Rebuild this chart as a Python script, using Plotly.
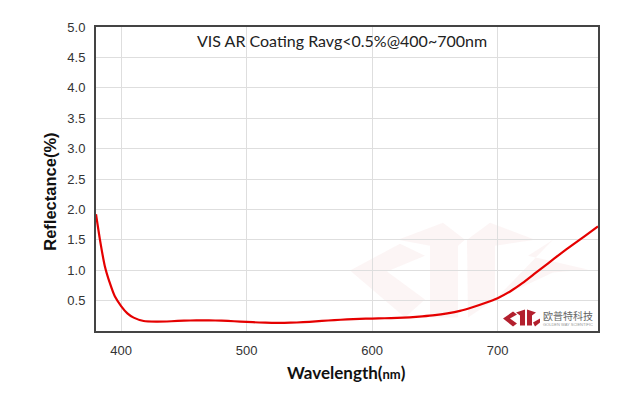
import plotly.graph_objects as go

wavelength = [380, 383, 387, 391, 395, 400, 405, 410, 418, 428, 440, 450, 460, 470,
              480, 490, 500, 510, 520, 530, 540, 550, 560, 570, 580, 590, 600, 610, 620,
              630, 640, 650, 660, 670, 680, 690, 700, 710, 720, 730, 740, 750, 760, 770, 780]
reflectance = [1.92, 1.52, 1.07, 0.79, 0.57, 0.41, 0.29, 0.22, 0.165, 0.155, 0.16,
               0.17, 0.175, 0.175, 0.17, 0.16, 0.15, 0.14, 0.135, 0.135, 0.14, 0.15, 0.165,
               0.18, 0.19, 0.20, 0.205, 0.21, 0.215, 0.225, 0.24, 0.26, 0.29, 0.33, 0.39,
               0.46, 0.54, 0.65, 0.79, 0.95, 1.11, 1.27, 1.42, 1.57, 1.72]
x_ticks = [400, 500, 600, 700]
y_ticks = [0.5, 1.0, 1.5, 2.0, 2.5, 3.0, 3.5, 4.0, 4.5, 5.0]
title_text = "VIS AR Coating Ravg<0.5%@400~700nm"

# page offset (browser body margin)
OFF = 8
PAGE_W, PAGE_H = 633, 394
L, R, T, B = 96, 598, 27, 331.5
W, H = PAGE_W - OFF, PAGE_H - OFF

def px(x, y):
    return ((x - L) / (R - L), (B - y) / (B - T))

def poly(pts):
    s = ""
    for i, (x, y) in enumerate(pts):
        a, b = px(x, y)
        s += ("M" if i == 0 else "L") + f"{a:.4f},{b:.4f} "
    return s + "Z"

fig = go.Figure()
fig.add_trace(go.Scatter(x=wavelength, y=reflectance, mode="lines",
                         line=dict(color="#e50000", width=2.2, shape="spline", smoothing=0.5),
                         hoverinfo="skip", showlegend=False))

shapes = []
wm = "rgba(190,60,60,0.05)"
big = [
    [(350, 271), (400, 244), (425, 256), (387, 272), (425, 300), (405, 318)],
    [(398, 240), (443, 223), (465, 240), (458, 246), (458, 318), (430, 318), (430, 246)],
    [(467, 240), (490, 223), (535, 240), (495, 246), (495, 300), (468, 318)],
    [(495, 300), (553, 273), (588, 270), (528, 256), (553, 240)],
]
for p in big:
    shapes.append(dict(type="path", xref="paper", yref="paper", path=poly(p),
                       fillcolor=wm, line=dict(width=0), layer="below"))
logo = "#b3202e"
small = [
    [(503, 319), (513, 312), (517, 315), (510, 319), (517, 324), (513, 327)],
    [(516, 313), (525, 310), (525, 326), (520, 326), (520, 316)],
    [(527, 310), (536, 313), (532, 316), (532, 326), (527, 326)],
    [(533, 323), (540, 319), (540, 323), (535, 327)],
]
for p in small:
    shapes.append(dict(type="path", xref="paper", yref="paper", path=poly(p),
                       fillcolor=logo, line=dict(width=0), layer="above"))

def ann(text, x, y, font, angle=0):
    return dict(text=text, xref="paper", yref="paper", x=px(x, 0)[0], y=px(0, y)[1],
                xanchor="center", yanchor="middle", textangle=angle,
                showarrow=False, font=font)

annotations = [
    ann(title_text, 342, 41, dict(family="Lato", size=16, color="#222")),
    ann("Reflectance(%)", 50, 192,
        dict(family="Liberation Sans", size=16.5, color="#111", weight="bold"), -90),
    ann("Wavelength(<span style='font-size:13px'>nm</span>)", 346, 373,
        dict(family="Lato", size=17, color="#111", weight="bold")),
    ann("欧普特科技", 568, 316, dict(family="Noto Sans CJK SC", size=10, color="#666")),
    ann("GOLDEN WAY SCIENTIFIC", 568, 325, dict(family="Liberation Sans", size=4, color="#999")),
]

fig.update_layout(
    width=W, height=H,
    margin=dict(l=L - OFF, r=W - (R - OFF), t=T - OFF, b=H - (B - OFF), pad=0),
    paper_bgcolor="white", plot_bgcolor="white",
    shapes=shapes, annotations=annotations,
    xaxis=dict(range=[380, 780], tickvals=x_ticks, ticktext=[str(v) for v in x_ticks],
               showgrid=True, gridcolor="#dedede", gridwidth=1,
               showline=True, linecolor="#444", linewidth=2, mirror=True,
               ticks="", ticklabelstandoff=6, zeroline=False,
               tickfont=dict(family="Liberation Sans", size=13, color="#333")),
    yaxis=dict(range=[0, 5], tickvals=y_ticks, ticktext=[f"{v:.1f}" for v in y_ticks],
               showgrid=True, gridcolor="#dedede", gridwidth=1,
               showline=True, linecolor="#444", linewidth=2, mirror=True,
               ticks="", ticklabelstandoff=6, zeroline=False,
               tickfont=dict(family="Liberation Sans", size=13, color="#333")),
)

fig.write_html("out.html")
